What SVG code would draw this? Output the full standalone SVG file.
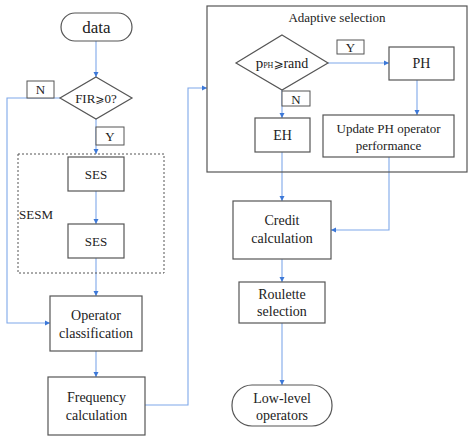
<svg xmlns="http://www.w3.org/2000/svg" width="474" height="440" viewBox="0 0 474 440" font-family="'Liberation Serif','Times New Roman',serif">
<defs>
<marker id="ah" markerWidth="6" markerHeight="6" refX="5" refY="3" orient="auto" markerUnits="userSpaceOnUse">
<path d="M0,0.5 L5,3 L0,5.5 Z" fill="#3c78d8"/>
</marker>
<style>
.n{fill:#fff;stroke:#555;stroke-width:1.2}
.lb{fill:#fff;stroke:#555;stroke-width:1}
.c{fill:none;stroke:#7fa8ea;stroke-width:1.1;marker-end:url(#ah)}
text{font-family:'Liberation Serif','Times New Roman',serif;fill:#222;text-anchor:middle;font-size:14px}
.s{font-size:13px}
</style>
</defs>
<rect width="474" height="440" fill="#fff"/>
<g id="connectors">
<path class="c" d="M96,41 V77"/>
<path class="c" d="M60,98 H7 V323 H50"/>
<path class="c" d="M96,119 V154"/>
<path class="c" d="M96,191 V224"/>
<path class="c" d="M96,258 V296"/>
<path class="c" d="M96,351 V377"/>
<path class="c" d="M145,405 H188 V88 H207"/>
<path class="c" d="M328,63 H389"/>
<path class="c" d="M282,90 V118"/>
<path class="c" d="M417,80 V115"/>
<path class="c" d="M282,152 V201"/>
<path class="c" d="M389,157 V230 H331"/>
<path class="c" d="M282,259 V282"/>
<path class="c" d="M282,323 V385"/>
</g>
<g id="sesm">
<rect x="18" y="154" width="146" height="119" fill="none" stroke="#555" stroke-width="1" stroke-dasharray="2,2"/>
<text x="36" y="219" class="s">SESM</text>
</g>
<g id="adaptive">
<rect x="207" y="6" width="260" height="166" fill="none" stroke="#555" stroke-width="1.2"/>
<text x="337" y="22" class="s">Adaptive selection</text>
</g>
<g id="data">
<rect class="n" x="61" y="13" width="71" height="28" rx="14"/>
<text x="96.5" y="33" style="font-size:17px">data</text>
</g>
<g id="fir">
<polygon class="n" points="96,77 132,98 96,119 60,98"/>
<text x="96" y="103" class="s">FIR<tspan font-family="DejaVu Sans" font-size="11">⩾</tspan>0?</text>
</g>
<g id="labelN1">
<rect class="lb" x="27" y="81" width="27" height="17"/>
<text x="40.5" y="94" class="s">N</text>
</g>
<g id="labelY1">
<rect class="lb" x="96" y="127" width="28" height="18"/>
<text x="110" y="141" class="s">Y</text>
</g>
<g id="ses1">
<rect class="n" x="68" y="157" width="56" height="34"/>
<text x="96" y="179" class="s">SES</text>
</g>
<g id="ses2">
<rect class="n" x="68" y="224" width="56" height="34"/>
<text x="96" y="246" class="s">SES</text>
</g>
<g id="opclass">
<rect class="n" x="50" y="296" width="92" height="55"/>
<text x="96" y="320">Operator</text>
<text x="96" y="338">classification</text>
</g>
<g id="freq">
<rect class="n" x="48" y="377" width="97" height="58"/>
<text x="96.5" y="402">Frequency</text>
<text x="96.5" y="420">calculation</text>
</g>
<g id="pph">
<polygon class="n" points="282,35 328,63 282,90 236,63"/>
<text x="282" y="68" style="font-size:15px">p<tspan font-size="8">PH</tspan><tspan font-family="DejaVu Sans" font-size="12">⩾</tspan><tspan font-size="14">rand</tspan></text>
</g>
<g id="labelY2">
<rect class="lb" x="337" y="40" width="27" height="14"/>
<text x="350.5" y="52" class="s">Y</text>
</g>
<g id="labelN2">
<rect class="lb" x="282" y="91" width="28" height="15"/>
<text x="296" y="104" class="s">N</text>
</g>
<g id="ph">
<rect class="n" x="389" y="47" width="65" height="33"/>
<text x="421.5" y="68">PH</text>
</g>
<g id="eh">
<rect class="n" x="255" y="118" width="55" height="34"/>
<text x="282.5" y="140">EH</text>
</g>
<g id="update">
<rect class="n" x="323" y="115" width="131" height="42"/>
<text x="388.5" y="133" class="s">Update PH operator</text>
<text x="388.5" y="150" class="s">performance</text>
</g>
<g id="credit">
<rect class="n" x="233" y="201" width="98" height="58"/>
<text x="282" y="225">Credit</text>
<text x="282" y="243">calculation</text>
</g>
<g id="roulette">
<rect class="n" x="239" y="282" width="86" height="41"/>
<text x="282" y="299">Roulette</text>
<text x="282" y="316">selection</text>
</g>
<g id="lowlevel">
<rect class="n" x="232" y="385" width="100" height="41" rx="20"/>
<text x="282" y="403">Low-level</text>
<text x="282" y="420">operators</text>
</g>
</svg>
